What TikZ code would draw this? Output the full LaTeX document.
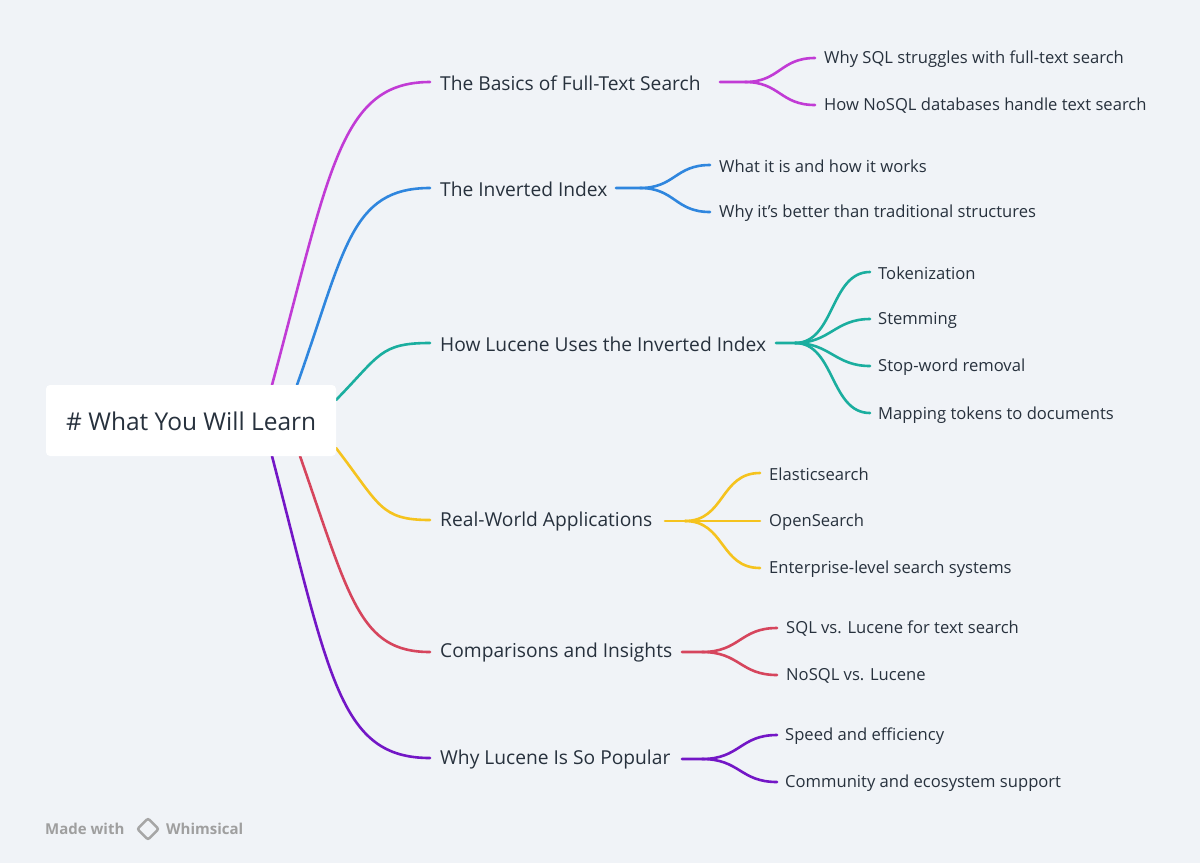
\documentclass[tikz,border=0pt]{standalone}
\usepackage{fontspec}
\setmainfont{Open Sans}
\definecolor{bg}{HTML}{F0F3F7}
\definecolor{txt}{HTML}{27313D}
\definecolor{colM}{HTML}{C13BD5}
\definecolor{colB}{HTML}{2F86DE}
\definecolor{colT}{HTML}{1AAE9F}
\definecolor{colY}{HTML}{F5C31E}
\definecolor{colR}{HTML}{D6455D}
\definecolor{colP}{HTML}{7316C6}
\tikzset{
  lbl/.style={anchor=west,inner sep=0pt,text=txt,font=\fontsize{19.2}{22}\selectfont},
  sub/.style={anchor=west,inner sep=0pt,text=txt,font=\fontsize{16.6}{19}\selectfont},
  br/.style={line width=2.6pt,line cap=round},
}
\begin{document}
\begin{tikzpicture}[x=1pt,y=-1pt]
\fill[bg] (0,0) rectangle (1200,863);
\useasboundingbox (0,0) rectangle (1200,863);
\draw[br,colM] (272,385) .. controls (330,170) and (340,82) .. (430,82);
\draw[br,colB] (297,385) .. controls (345,250) and (350,188) .. (430,188);
\draw[br,colT] (336,400) .. controls (380,355) and (380,343) .. (430,343);
\draw[br,colY] (336,448) .. controls (380,505) and (380,520) .. (430,520);
\draw[br,colR] (300,456) .. controls (350,600) and (360,652) .. (430,652);
\draw[br,colP] (272,456) .. controls (330,680) and (340,758) .. (430,758);
\node[fill=white,rounded corners=4pt,minimum width=290pt,minimum height=71pt,inner sep=0pt] (root) at (191,420.5) {};
\node[anchor=west,inner sep=0pt,text=txt,font=\fontsize{24.5}{28}\selectfont] (roott) at (66,421) {\# What You Will Learn};
\node[lbl] (a) at (440,83) {The Basics of Full-Text Search};
\node[lbl] (b) at (440,189) {The Inverted Index};
\node[lbl] (c) at (440,344) {How Lucene Uses the Inverted Index};
\node[lbl] (d) at (440,522) {Real-World Applications};
\node[lbl] (e) at (440,653) {Comparisons and Insights};
\node[lbl] (f) at (440,760) {Why Lucene Is So Popular};
\node[sub] (a1) at (824,59) {Why SQL struggles with full-text search};
\node[sub] (a2) at (824,106) {How NoSQL databases handle text search};
\node[sub] (b1) at (719,166) {What it is and how it works};
\node[sub] (b2) at (719,213) {Why it’s better than traditional structures};
\node[sub] (c1) at (878,273) {Tokenization};
\node[sub] (c2) at (878,320) {Stemming};
\node[sub] (c3) at (878,367) {Stop-word removal};
\node[sub] (c4) at (878,415) {Mapping tokens to documents};
\node[sub] (d1) at (769,474) {Elasticsearch};
\node[sub] (d2) at (769,522) {OpenSearch};
\node[sub] (d3) at (769,569) {Enterprise-level search systems};
\node[sub] (e1) at (786,629) {SQL vs. Lucene for text search};
\node[sub] (e2) at (786,676) {NoSQL vs. Lucene};
\node[sub] (f1) at (785,736) {Speed and efficiency};
\node[sub] (f2) at (785,783) {Community and ecosystem support};
\draw[br,colM] (720,82) -- (745,82) .. controls (780,82) and (780,58) .. (815,58);
\draw[br,colM] (745,82) .. controls (780,82) and (780,105) .. (815,105);
\draw[br,colB] (616,188) -- (640,188) .. controls (675,188) and (675,165) .. (710,165);
\draw[br,colB] (640,188) .. controls (675,188) and (675,212) .. (710,212);
\draw[br,colT] (776,343) -- (795,343) .. controls (835,343) and (830,272) .. (870,272);
\draw[br,colT] (795,343) .. controls (830,343) and (835,319) .. (870,319);
\draw[br,colT] (795,343) .. controls (830,343) and (835,366) .. (870,366);
\draw[br,colT] (795,343) .. controls (835,343) and (830,413) .. (870,413);
\draw[br,colY] (665,521) -- (760,521);
\draw[br,colY] (685,521) .. controls (725,521) and (720,473) .. (760,473);
\draw[br,colY] (685,521) .. controls (725,521) and (720,568) .. (760,568);
\draw[br,colR] (682,652) -- (702,652) .. controls (740,652) and (740,628) .. (777,628);
\draw[br,colR] (702,652) .. controls (740,652) and (740,675) .. (777,675);
\draw[br,colP] (682,759) -- (702,759) .. controls (740,759) and (740,735) .. (777,735);
\draw[br,colP] (702,759) .. controls (740,759) and (740,782) .. (777,782);
\node[anchor=west,inner sep=0pt,text=gray!75,font=\bfseries\fontsize{15}{17}\selectfont] (made) at (45,829) {Made with};
\node[draw=gray!70,line width=2.5pt,rotate=45,minimum size=15pt,inner sep=0pt,rounded corners=2pt] (logo) at (148,829) {};
\node[anchor=west,inner sep=0pt,text=gray!75,font=\bfseries\fontsize{15}{17}\selectfont] (whim) at (166,829) {Whimsical};
\end{tikzpicture}
\end{document}
